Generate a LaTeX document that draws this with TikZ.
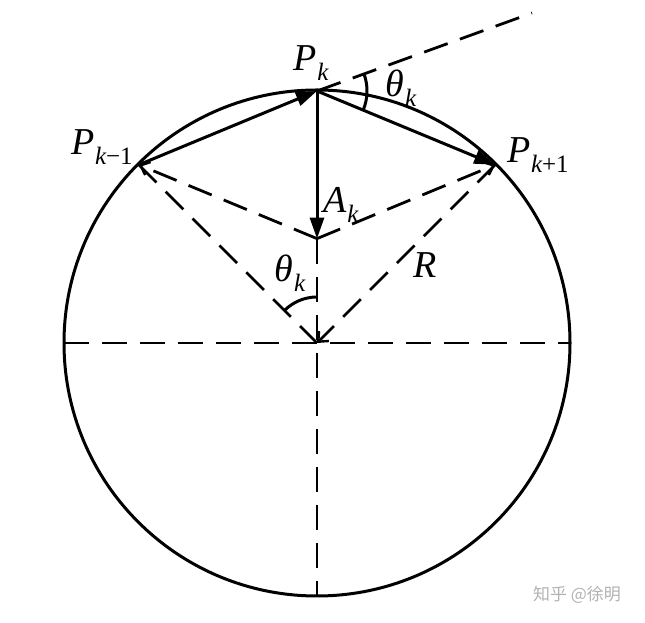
\documentclass[tikz,border=0pt]{standalone}
\usepackage{fontspec}
\setmainfont{Liberation Serif}
\newfontfamily\cjk{Noto Sans CJK SC}
\usetikzlibrary{arrows.meta,calc}
\newcommand\subsc[1]{\kern0.5pt\raisebox{-10pt}{\fontsize{25}{25}\selectfont #1}}
\tikzset{
  lab/.style={font=\fontsize{38}{40}\selectfont\itshape, inner sep=0pt},
  solidline/.style={line width=3pt},
  dashline/.style={line width=2.8pt, dash pattern=on 25pt off 13pt},
  bigtip/.style={-{Triangle[length=21pt,width=14pt]}},
  smalltip/.style={-{Straight Barb[length=8pt,width=14pt,line width=2.4pt]}},
}
\begin{document}
\begin{tikzpicture}[x=1pt,y=1pt]
\useasboundingbox (0,0) rectangle (645,623);
\coordinate (C) at (317,280);
\coordinate (Pk) at ($(C)+(90:252)$);
\coordinate (Pm) at ($(C)+(135:252)$);
\coordinate (Pp) at ($(C)+(45:252)$);
\coordinate (A) at ($(Pm)+(Pp)-(Pk)$);
\coordinate (T) at (532,610);
\coordinate (B) at ($(C)+(270:253)$);
\coordinate (L) at ($(C)+(180:253)$);
\coordinate (Rt) at ($(C)+(0:253)$);
% circle
\draw[solidline] (C) circle[radius=253];
% dashed construction
\draw[dashline] (L) -- (Rt);
\draw[dashline] (A) -- (B);
\draw[dashline] (Pk) -- (T);
\draw[dashline] (Pm) -- (C);
\draw[dashline, smalltip] (Pp) -- (C);
\draw[dashline, smalltip] (A) -- (Pm);
\draw[dashline, smalltip] (A) -- (Pp);
% solid vectors
\draw[solidline, bigtip] (Pm) -- (Pk);
\draw[solidline, bigtip] (Pk) -- (Pp);
\draw[solidline, bigtip] (Pk) -- (A);
% angle arcs
\draw[solidline] ($(Pk)+(-22.5:50)$) arc[start angle=-22.5, end angle=20, radius=50];
\draw[solidline] ($(C)+(90:46)$) arc[start angle=90, end angle=135, radius=46];
% labels
\node[lab] (lPk) at (311,560) {P\subsc{k}};
\node[lab] (lPm) at (102,476) {P\subsc{k{\upshape −1}}};
\node[lab] (lPp) at (538,468) {P\subsc{k{\upshape +1}}};
\node[lab] (lth1) at (401,535) {θ\subsc{k}};
\node[lab] (lA) at (341,418) {A\subsc{k}};
\node[lab] (lth2) at (290,350) {θ\subsc{k}};
\node[lab] (lR) at (425,358) {R};
\node[font=\cjk\fontsize{17}{17}\selectfont, text=black!30, inner sep=0pt] (wm) at (577,28) {知乎 @徐明};
\end{tikzpicture}
\end{document}
